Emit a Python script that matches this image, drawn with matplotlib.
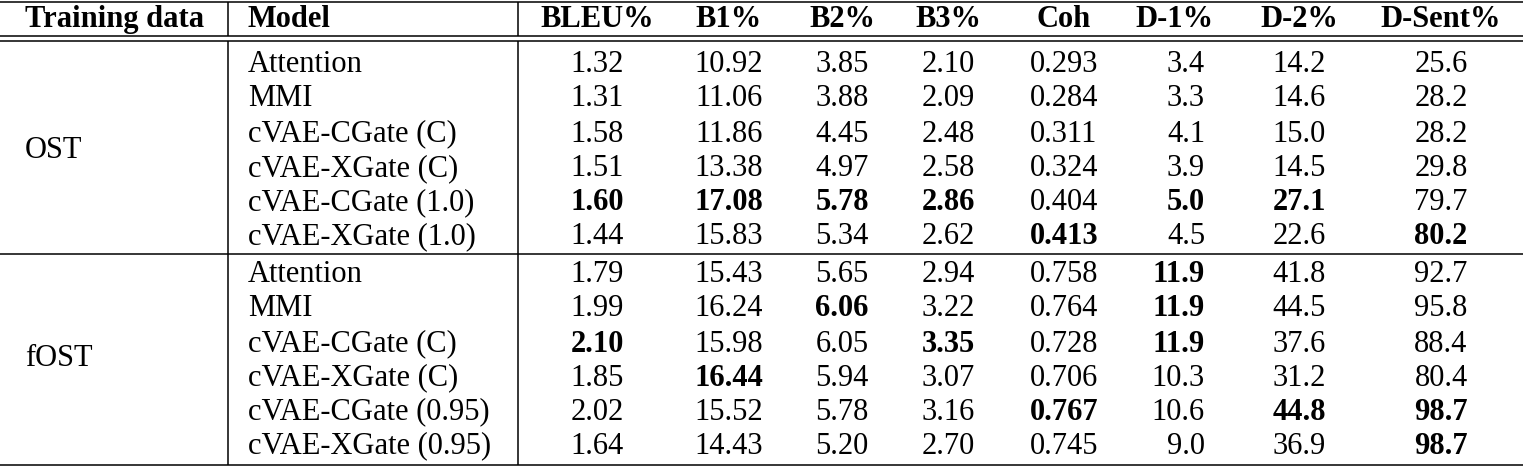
import matplotlib
matplotlib.use("Agg")
import matplotlib.pyplot as plt

# ---- data ----
training_data = ["OST", "fOST"]
models = [
    ["Attention", "MMI", "cVAE-CGate (C)", "cVAE-XGate (C)", "cVAE-CGate (1.0)", "cVAE-XGate (1.0)"],
    ["Attention", "MMI", "cVAE-CGate (C)", "cVAE-XGate (C)", "cVAE-CGate (0.95)", "cVAE-XGate (0.95)"],
]
metric_names = ["BLEU%", "B1%", "B2%", "B3%", "Coh", "D-1%", "D-2%", "D-Sent%"]
metric_decimals = [2, 2, 2, 2, 3, 1, 1, 1]

bleu = [1.32, 1.31, 1.58, 1.51, 1.60, 1.44, 1.79, 1.99, 2.10, 1.85, 2.02, 1.64]
b1 = [10.92, 11.06, 11.86, 13.38, 17.08, 15.83, 15.43, 16.24, 15.98, 16.44, 15.52, 14.43]
b2 = [3.85, 3.88, 4.45, 4.97, 5.78, 5.34, 5.65, 6.06, 6.05, 5.94, 5.78, 5.20]
b3 = [2.10, 2.09, 2.48, 2.58, 2.86, 2.62, 2.94, 3.22, 3.35, 3.07, 3.16, 2.70]
coh = [0.293, 0.284, 0.311, 0.324, 0.404, 0.413, 0.758, 0.764, 0.728, 0.706, 0.767, 0.745]
d1 = [3.4, 3.3, 4.1, 3.9, 5.0, 4.5, 11.9, 11.9, 11.9, 10.3, 10.6, 9.0]
d2 = [14.2, 14.6, 15.0, 14.5, 27.1, 22.6, 41.8, 44.5, 37.6, 31.2, 44.8, 36.9]
dsent = [25.6, 28.2, 28.2, 29.8, 79.7, 80.2, 92.7, 95.8, 88.4, 80.4, 98.7, 98.7]
metrics = [bleu, b1, b2, b3, coh, d1, d2, dsent]

# best results (row index, metric index) shown in bold
best_cells = [
    (4, 0), (4, 1), (4, 2), (4, 3), (4, 5), (4, 6),
    (5, 4), (5, 7),
    (6, 5),
    (7, 2), (7, 5),
    (8, 0), (8, 3), (8, 5),
    (9, 1),
    (10, 4), (10, 6), (10, 7),
    (11, 7),
]

# ---- layout ----
W, H = 1526, 468
fig = plt.figure(figsize=(W / 100, H / 100), dpi=100)
ax = fig.add_axes([0, 0, 1, 1])
ax.set_xlim(0, W)
ax.set_ylim(H, 0)
ax.axis("off")

FONT = ["Liberation Serif", "DejaVu Serif"]
FS = 22
LW = 1.1

col_x = [597, 729, 842, 948, 1064, 1205, 1299, 1441]
col_ha = ["center", "center", "center", "center", "center", "right", "center", "center"]
header_x = [597, 729, 842, 948, 1064, 1214, 1299, 1441]

header_base = 27
row_base = [72.5, 106.5, 141.5, 176.5, 210.5, 244.5,
            281.5, 316.5, 351.5, 385.5, 419.5, 453.5]
group_base = [157.5, 366.5]

x_left, x_right = 0, 1523
y_top, y_h1, y_h2, y_mid, y_bot = 1.5, 36, 40.5, 254, 465
v_lines = [228, 518]

# horizontal rules
for y in [y_top, y_h1, y_h2, y_mid, y_bot]:
    ax.plot([x_left, x_right], [y, y], color="black", lw=LW, solid_capstyle="butt")
# vertical rules
for x in v_lines:
    ax.plot([x, x], [y_top, y_h1], color="black", lw=LW, solid_capstyle="butt")
    ax.plot([x, x], [y_h2, y_bot], color="black", lw=LW, solid_capstyle="butt")

# header
ax.text(25, header_base, "Training data", fontfamily=FONT, fontsize=FS, fontweight="bold",
        ha="left", va="baseline")
ax.text(248, header_base, "Model", fontfamily=FONT, fontsize=FS, fontweight="bold",
        ha="left", va="baseline")
for j, name in enumerate(metric_names):
    ax.text(header_x[j], header_base, name, fontfamily=FONT, fontsize=FS, fontweight="bold",
            ha=col_ha[j], va="baseline")

# group labels
for g, label in enumerate(training_data):
    ax.text(25, group_base[g], label, fontfamily=FONT, fontsize=FS, ha="left", va="baseline")

# rows
all_models = models[0] + models[1]
for i, m in enumerate(all_models):
    ax.text(248, row_base[i], m, fontfamily=FONT, fontsize=FS, ha="left", va="baseline")
    for j, vals in enumerate(metrics):
        txt = f"{vals[i]:.{metric_decimals[j]}f}"
        bold = (i, j) in best_cells
        ax.text(col_x[j], row_base[i], txt, fontfamily=FONT, fontsize=FS,
                fontweight="bold" if bold else "normal", ha=col_ha[j], va="baseline")

fig.savefig("out.png", dpi=100, facecolor="white")
